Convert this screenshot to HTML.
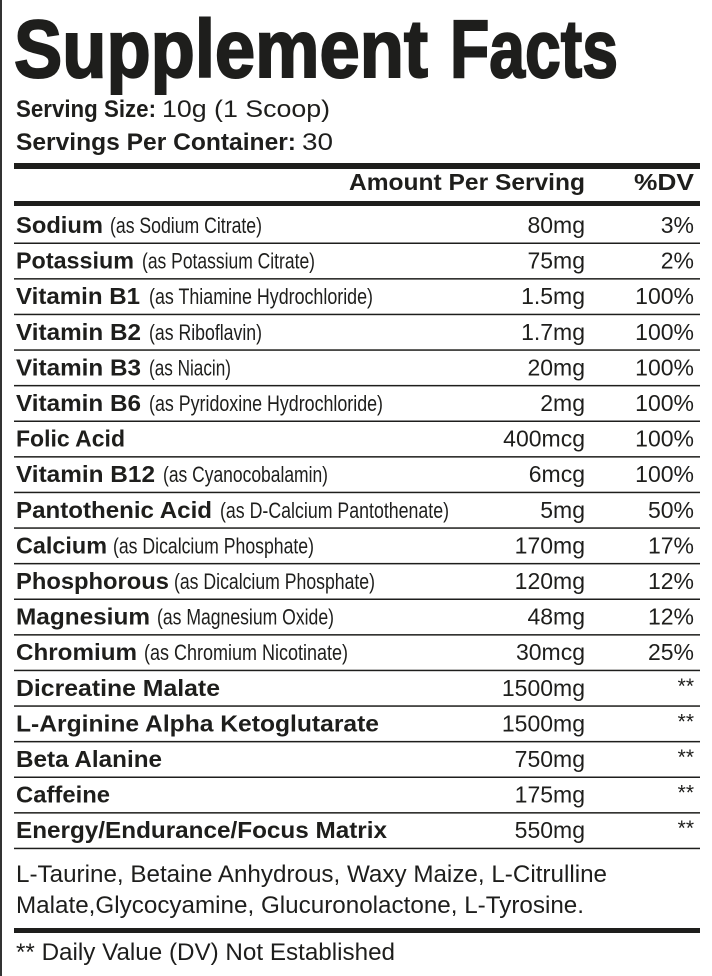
<!DOCTYPE html>
<html><head><meta charset="utf-8"><style>
html,body{margin:0;padding:0;background:#fff;width:712px;height:976px;overflow:hidden}
svg{display:block}
text{font-family:"Liberation Sans",sans-serif;fill:#1e1e1c}
.b{font-weight:bold}
</style></head><body>
<svg width="712" height="976" viewBox="0 0 712 976" xmlns="http://www.w3.org/2000/svg">
<rect x="0" y="0" width="2" height="976" fill="#333"/>
<text class="b" x="14" y="77" font-size="82" stroke="#1e1e1c" stroke-width="2" textLength="414" lengthAdjust="spacingAndGlyphs">Supplement</text>
<text class="b" x="450" y="77" font-size="82" stroke="#1e1e1c" stroke-width="2" textLength="168" lengthAdjust="spacingAndGlyphs">Facts</text>
<text class="b" x="16" y="117" font-size="24" textLength="140" lengthAdjust="spacingAndGlyphs">Serving Size:</text>
<text x="162" y="117" font-size="24" textLength="168" lengthAdjust="spacingAndGlyphs">10g (1 Scoop)</text>
<text class="b" x="16" y="150" font-size="24" textLength="280" lengthAdjust="spacingAndGlyphs">Servings Per Container:</text>
<text x="302" y="150" font-size="24" textLength="31" lengthAdjust="spacingAndGlyphs">30</text>
<rect x="14" y="163" width="686" height="6" fill="#1e1e1c"/>
<text class="b" x="349" y="190" font-size="23" textLength="236" lengthAdjust="spacingAndGlyphs">Amount Per Serving</text>
<text class="b" x="634" y="190" font-size="23" textLength="60" lengthAdjust="spacingAndGlyphs">%DV</text>
<rect x="14" y="201" width="686" height="5" fill="#1e1e1c"/>
<g id="rows"></g>
<text x="16" y="882" font-size="24" textLength="591" lengthAdjust="spacingAndGlyphs">L-Taurine, Betaine Anhydrous, Waxy Maize,  L-Citrulline</text>
<text x="16" y="913" font-size="24" textLength="568" lengthAdjust="spacingAndGlyphs">Malate,Glycocyamine, Glucuronolactone, L-Tyrosine.</text>
<rect x="14" y="928" width="686" height="5" fill="#1e1e1c"/>
<text x="16" y="960" font-size="24" textLength="379" lengthAdjust="spacingAndGlyphs">** Daily Value (DV) Not Established</text>
</svg>
<script>
var rows=[
["Sodium",103,"(as Sodium Citrate)",110,262,"80mg","3%"],
["Potassium",134,"(as Potassium Citrate)",142,315,"75mg","2%"],
["Vitamin B1",140,"(as Thiamine Hydrochloride)",149,373,"1.5mg","100%"],
["Vitamin B2",141,"(as Riboflavin)",149,262,"1.7mg","100%"],
["Vitamin B3",141,"(as Niacin)",149,231,"20mg","100%"],
["Vitamin B6",141,"(as Pyridoxine Hydrochloride)",149,383,"2mg","100%"],
["Folic Acid",125,"",0,0,"400mcg","100%"],
["Vitamin B12",155,"(as Cyanocobalamin)",163,328,"6mcg","100%"],
["Pantothenic Acid",212,"(as D-Calcium Pantothenate)",220,449,"5mg","50%"],
["Calcium",107,"(as Dicalcium Phosphate)",113,314,"170mg","17%"],
["Phosphorous",169,"(as Dicalcium Phosphate)",174,375,"120mg","12%"],
["Magnesium",150,"(as Magnesium Oxide)",157,334,"48mg","12%"],
["Chromium",137,"(as Chromium Nicotinate)",144,348,"30mcg","25%"],
["Dicreatine Malate",220,"",0,0,"1500mg","**"],
["L-Arginine Alpha Ketoglutarate",379,"",0,0,"1500mg","**"],
["Beta Alanine",162,"",0,0,"750mg","**"],
["Caffeine",110,"",0,0,"175mg","**"],
["Energy/Endurance/Focus Matrix",387,"",0,0,"550mg","**"]];
var ns="http://www.w3.org/2000/svg",g=document.getElementById("rows");
function t(x,y,s,o){var e=document.createElementNS(ns,"text");e.setAttribute("x",x);e.setAttribute("y",y);for(var k in o)e.setAttribute(k,o[k]);e.textContent=s;g.appendChild(e);}
rows.forEach(function(r,i){
 var y=(233+i*35.6).toFixed(1), ly=(242.5+i*35.6).toFixed(1);
 t(16,y,r[0],{"class":"b","font-size":"23",textLength:r[1]-16,lengthAdjust:"spacingAndGlyphs"});
 if(r[2])t(r[3],y,r[2],{"font-size":"22",textLength:r[4]-r[3],lengthAdjust:"spacingAndGlyphs"});
 t(585,y,r[5],{"font-size":"23","text-anchor":"end"});
 if(r[6]=="**")t(694,+y-3,r[6],{"font-size":"21","text-anchor":"end"});
 else t(694,y,r[6],{"font-size":"23","text-anchor":"end"});
 var l=document.createElementNS(ns,"rect");l.setAttribute("x",14);l.setAttribute("y",ly);l.setAttribute("width",686);l.setAttribute("height",1.5);l.setAttribute("fill","#1e1e1c");g.appendChild(l);
});
</script>
</body></html>
